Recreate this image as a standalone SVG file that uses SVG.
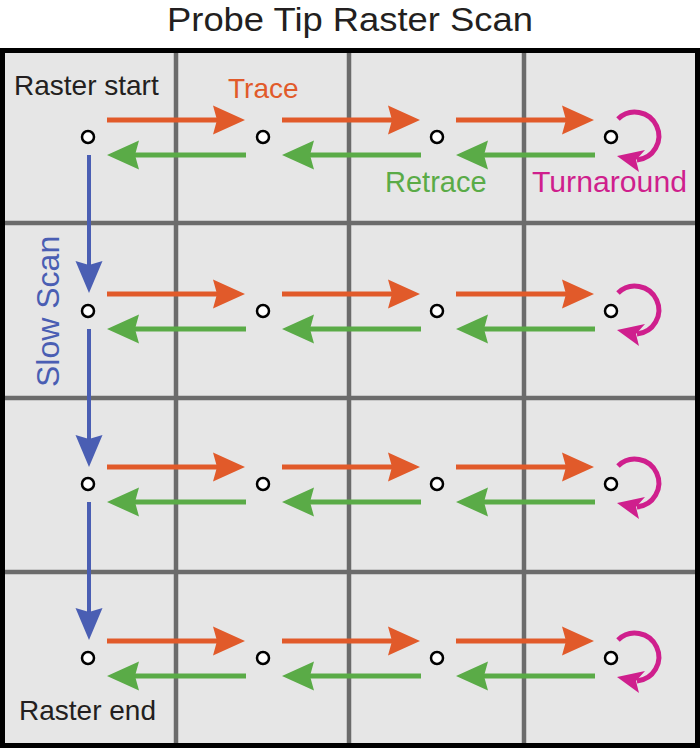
<svg xmlns="http://www.w3.org/2000/svg" xmlns:xlink="http://www.w3.org/1999/xlink" width="700" height="748" viewBox="0 0 700 748">
<style>
text{font-family:"Liberation Sans",Arial,sans-serif}
.grid{stroke:#6b6b6b;stroke-width:4.5;fill:none}
.dot{fill:#fff;stroke:#000;stroke-width:2.5}
.tr{stroke:#e15a2a;stroke-width:5;fill:none;marker-end:url(#mo)}
.rt{stroke:#5aab47;stroke-width:5;fill:none;marker-end:url(#mg)}
.sl{stroke:#4a5eb3;stroke-width:4;fill:none;marker-end:url(#mb)}
.ta{stroke:#cf1f8d;stroke-width:5;fill:none}
.tah{fill:#cf1f8d}
</style>
<defs>
<marker id="mo" markerUnits="userSpaceOnUse" markerWidth="34" markerHeight="30" refX="8" refY="15" orient="auto" viewBox="0 0 34 30"><path d="M0,0.5 L32,15 L0,29.5 L4,15 z" fill="#e15a2a"/></marker>
<marker id="mg" markerUnits="userSpaceOnUse" markerWidth="34" markerHeight="30" refX="8" refY="15" orient="auto" viewBox="0 0 34 30"><path d="M0,0.5 L32,15 L0,29.5 L4,15 z" fill="#5aab47"/></marker>
<marker id="mb" markerUnits="userSpaceOnUse" markerWidth="34" markerHeight="30" refX="8" refY="15" orient="auto" viewBox="0 0 34 30"><path d="M0,1.5 L32,15 L0,28.5 L4,15 z" fill="#4a5eb3"/></marker>
<g id="turn">
<path class="ta" d="M7,-18 A24,24 0 1 1 26,23"/>
<path class="tah" d="M6,19 L34,13 L25,23 L28,35 z"/>
</g>
</defs>
<text x="350" y="31" font-size="34" text-anchor="middle" textLength="366" lengthAdjust="spacingAndGlyphs" fill="#231f20">Probe Tip Raster Scan</text>
<g id="grid">
<rect x="2.5" y="50.5" width="695" height="695" fill="#e6e6e6" stroke="none"/>
<path class="grid" d="M176,53V743M349,53V743M524,53V743M5,223H695M5,398H695M5,572H695"/>
<rect x="2.5" y="50.5" width="695" height="695" fill="none" stroke="#000" stroke-width="5"/>
</g>
<g id="connectors">
<g id="row1">
<line class="tr" x1="107" y1="120" x2="221" y2="120"/><line class="tr" x1="282" y1="120" x2="396" y2="120"/><line class="tr" x1="456" y1="120" x2="570" y2="120"/>
<line class="rt" x1="246" y1="155" x2="131" y2="155"/><line class="rt" x1="421" y1="155" x2="306" y2="155"/><line class="rt" x1="595" y1="155" x2="480" y2="155"/>
</g>
<g id="row2">
<line class="tr" x1="107" y1="294" x2="221" y2="294"/><line class="tr" x1="282" y1="294" x2="396" y2="294"/><line class="tr" x1="456" y1="294" x2="570" y2="294"/>
<line class="rt" x1="246" y1="329" x2="131" y2="329"/><line class="rt" x1="421" y1="329" x2="306" y2="329"/><line class="rt" x1="595" y1="329" x2="480" y2="329"/>
</g>
<g id="row3">
<line class="tr" x1="107" y1="467" x2="221" y2="467"/><line class="tr" x1="282" y1="467" x2="396" y2="467"/><line class="tr" x1="456" y1="467" x2="570" y2="467"/>
<line class="rt" x1="246" y1="502" x2="131" y2="502"/><line class="rt" x1="421" y1="502" x2="306" y2="502"/><line class="rt" x1="595" y1="502" x2="480" y2="502"/>
</g>
<g id="row4">
<line class="tr" x1="107" y1="641" x2="221" y2="641"/><line class="tr" x1="282" y1="641" x2="396" y2="641"/><line class="tr" x1="456" y1="641" x2="570" y2="641"/>
<line class="rt" x1="246" y1="676" x2="131" y2="676"/><line class="rt" x1="421" y1="676" x2="306" y2="676"/><line class="rt" x1="595" y1="676" x2="480" y2="676"/>
</g>
<g id="slow">
<line class="sl" x1="89" y1="155" x2="89" y2="269"/>
<line class="sl" x1="89" y1="329" x2="89" y2="443"/>
<line class="sl" x1="89" y1="502" x2="89" y2="616"/>
</g>
<g id="turnarounds">
<use xlink:href="#turn" transform="translate(611,137)"/>
<use xlink:href="#turn" transform="translate(611,311)"/>
<use xlink:href="#turn" transform="translate(611,484)"/>
<use xlink:href="#turn" transform="translate(611,658)"/>
</g>
</g>
<g id="nodes">
<circle class="dot" cx="88" cy="137" r="6"/><circle class="dot" cx="263" cy="137" r="6"/><circle class="dot" cx="437" cy="137" r="6"/><circle class="dot" cx="611" cy="137" r="6"/>
<circle class="dot" cx="88" cy="311" r="6"/><circle class="dot" cx="263" cy="311" r="6"/><circle class="dot" cx="437" cy="311" r="6"/><circle class="dot" cx="611" cy="311" r="6"/>
<circle class="dot" cx="88" cy="484" r="6"/><circle class="dot" cx="263" cy="484" r="6"/><circle class="dot" cx="437" cy="484" r="6"/><circle class="dot" cx="611" cy="484" r="6"/>
<circle class="dot" cx="88" cy="658" r="6"/><circle class="dot" cx="263" cy="658" r="6"/><circle class="dot" cx="437" cy="658" r="6"/><circle class="dot" cx="611" cy="658" r="6"/>
</g>
<g id="labels">
<text x="14" y="95" font-size="28" fill="#231f20">Raster start</text>
<text x="228" y="98" font-size="28" fill="#e15a2a">Trace</text>
<text x="385" y="192" font-size="29" fill="#5aab47">Retrace</text>
<text x="532" y="192" font-size="29" textLength="155" lengthAdjust="spacingAndGlyphs" fill="#cf1f8d">Turnaround</text>
<text x="19" y="720" font-size="28" fill="#231f20">Raster end</text>
<text transform="translate(59,387) rotate(-90)" font-size="32" fill="#4a5eb3">Slow Scan</text>
</g>
</svg>
